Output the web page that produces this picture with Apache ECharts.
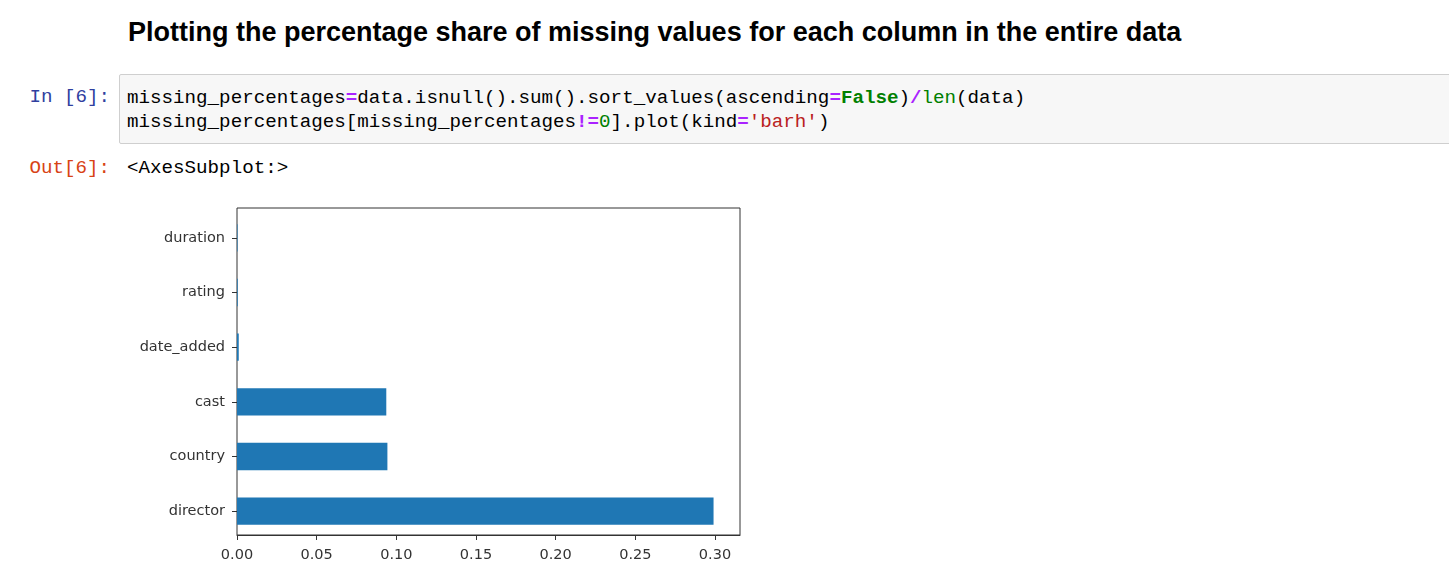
<!DOCTYPE html>
<html>
<head>
<meta charset="utf-8">
<script src="https://cdn.jsdelivr.net/npm/echarts@6/dist/echarts.min.js"></script>
<style>
  html, body { margin:0; padding:0; background:#fff; width:1449px; height:586px; overflow:hidden; }
  .title { position:absolute; left:128px; top:17px; font-family:"Liberation Sans", Arial, sans-serif; font-weight:bold; font-size:27px; color:#000; white-space:nowrap; }
  .mono { font-family:"Liberation Mono", "DejaVu Sans Mono", monospace; font-size:19.2px; white-space:pre; }
  .prompt { position:absolute; left:0; width:110px; text-align:right; }
  .inp { color:#303F9F; top:86px; }
  .outp { color:#D84315; top:157px; }
  .codebox { position:absolute; left:119px; top:74px; width:1340px; height:70px; background:#f7f7f7; border:1px solid #cfcfcf; border-radius:2px; box-sizing:border-box; }
  .code { position:absolute; left:127px; top:86px; line-height:24px; color:#000; }
  .kw { color:#008000; font-weight:bold; }
  .op { color:#AA22FF; font-weight:bold; }
  .bi { color:#008000; }
  .num { color:#008000; }
  .str { color:#BA2121; }
  .out { position:absolute; left:127px; top:157px; color:#000; }
  #chart { position:absolute; left:0; top:190px; width:800px; height:396px; }
</style>
</head>
<body>
<div class="title">Plotting the percentage share of missing values for each column in the entire data</div>
<div class="prompt mono inp">In [6]:</div>
<div class="codebox"></div>
<div class="code mono">missing_percentages<span class="op">=</span>data.isnull().sum().sort_values(ascending<span class="op">=</span><span class="kw">False</span>)<span class="op">/</span><span class="bi">len</span>(data)
missing_percentages[missing_percentages<span class="op">!=</span><span class="num">0</span>].plot(kind<span class="op">=</span><span class="str">'barh'</span>)</div>
<div class="prompt mono outp">Out[6]:</div>
<div class="out mono">&lt;AxesSubplot:&gt;</div>
<div id="chart"></div>
<script>
// Data (bottom to top, as drawn)
const categories = ["director", "country", "cast", "date_added", "rating", "duration"];
const values = [0.2991, 0.0944, 0.0937, 0.0011, 0.00045, 0.00034];
const xTicks = [0, 0.05, 0.10, 0.15, 0.20, 0.25, 0.30];
const xMax = 0.3157;

const chart = echarts.init(document.getElementById('chart'), null, { renderer: 'canvas' });
const axisColor = '#333333';
const labelFont = { fontFamily: 'DejaVu Sans', fontSize: 14.5, color: '#333333' };
chart.setOption({
  animation: false,
  grid: [
    // plotting bands for the categories
    { left: 237, top: 20.5, width: 503, height: 328, show: false },
    // axes frame (matplotlib spines)
    { left: 237, top: 18, width: 503, height: 327, show: true, borderColor: axisColor, borderWidth: 1, backgroundColor: 'transparent' }
  ],
  xAxis: [
    {
      gridIndex: 0, type: 'value', min: 0, max: xMax,
      axisLine: { show: false }, axisTick: { show: false }, axisLabel: { show: false }, splitLine: { show: false }
    },
    {
      gridIndex: 1, type: 'value', min: 0, max: xMax,
      axisLine: { show: true, onZero: false, lineStyle: { color: axisColor, width: 1 } },
      axisTick: { show: true, length: 5, lineStyle: { color: axisColor }, customValues: xTicks },
      axisLabel: Object.assign({ margin: 13, customValues: xTicks, formatter: v => v.toFixed(2) }, labelFont),
      splitLine: { show: false }
    }
  ],
  yAxis: [
    {
      gridIndex: 0, type: 'category', data: categories,
      axisLine: { show: false },
      axisTick: { show: true, alignWithLabel: true, length: 5, lineStyle: { color: axisColor } },
      axisLabel: Object.assign({ margin: 12 }, labelFont),
      splitLine: { show: false }
    },
    {
      gridIndex: 1, type: 'value', min: 0, max: 1,
      axisLine: { show: false }, axisTick: { show: false }, axisLabel: { show: false }, splitLine: { show: false }
    }
  ],
  series: [{
    type: 'bar', xAxisIndex: 0, yAxisIndex: 0, data: values, barCategoryGap: '50%',
    itemStyle: { color: '#1f77b4' }
  }]
});
</script>
</body>
</html>
